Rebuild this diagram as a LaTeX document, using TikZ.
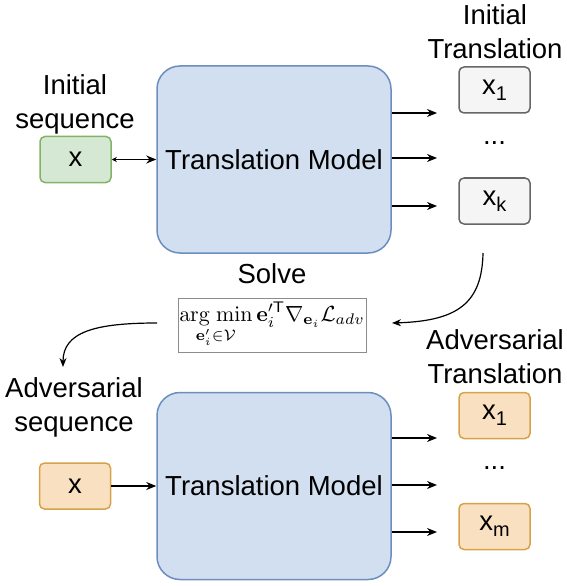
\documentclass[tikz,border=0pt]{standalone}
\usepackage{amsmath}
\usepackage{graphicx}
\usepackage[no-math]{fontspec}
\setmainfont{Liberation Sans}
\usetikzlibrary{arrows.meta}
\definecolor{blueF}{HTML}{D2DFF0}
\definecolor{blueD}{HTML}{6C8EBF}
\definecolor{greenF}{HTML}{D5E8D4}
\definecolor{greenD}{HTML}{82B366}
\definecolor{grayF}{HTML}{F5F5F5}
\definecolor{grayD}{HTML}{666666}
\definecolor{orangeF}{HTML}{F9E0C1}
\definecolor{orangeD}{HTML}{D6A24A}
\definecolor{frameD}{HTML}{8C8C8C}
\newcommand{\sbx}[1]{\raisebox{-6bp}{\fontsize{20}{20}\selectfont #1}}
\begin{document}
\begin{tikzpicture}[x=1bp,y=-1bp,
  lbl/.style={font=\fontsize{27.6}{34}\selectfont, align=center, inner sep=0pt},
  model/.style={draw=blueD, fill=blueF, line width=1.5bp, rounded corners=23bp,
    minimum width=234bp, minimum height=187bp, inner sep=0pt,
    font=\fontsize{27.6}{34}\selectfont},
  tok/.style={line width=1.5bp, rounded corners=5bp, minimum width=71bp,
    minimum height=46bp, inner sep=0pt, font=\fontsize{27.6}{34}\selectfont},
  srcbox/.style={tok, draw=greenD, fill=greenF},
  outbox/.style={tok, draw=grayD, fill=grayF},
  advbox/.style={tok, draw=orangeD, fill=orangeF},
  arr/.style={line width=1.5bp, -{Stealth[length=10bp,width=8bp]}},
  carr/.style={line width=1.2bp, -{Stealth[length=9bp,width=7bp]}}]
\useasboundingbox (0,0) rectangle (567,586);

% top row
\node[model] (tm) at (274,159.5) {Translation Model};
\node[srcbox] (xs) at (75.5,159.5) {x};
\node[lbl] (lis) at (75,104) {Initial\\sequence};
\node[lbl] (lit) at (495,32) {Initial\\Translation};
\node[outbox] (o1) at (494.5,90) {x\sbx{1}};
\node[lbl] (od) at (494.5,143) {...};
\node[outbox] (ok) at (494.5,201) {x\sbx{k}};

\coordinate (t1) at (437,113);
\coordinate (t2) at (437,158);
\coordinate (t3) at (437,206);
\draw[arr] (tm.east |- t1) -- (t1);
\draw[arr] (tm.east |- t2) -- (t2);
\draw[arr] (tm.east |- t3) -- (t3);
\draw[line width=1.2bp, {Stealth[length=5bp,width=5bp]}-{Stealth[length=10bp,width=8bp]}] (xs.east) -- (tm.west |- xs.east);

% solve
\node[lbl] (solve) at (272,274) {Solve};
\node[draw=frameD, line width=0.8bp, fill=white, minimum width=188bp, minimum height=54bp, inner sep=0pt] (fm) at (272,325)
  {\scalebox{2.2}{$\displaystyle\operatorname*{arg\;min}_{\mathbf{e}_i'\in\mathcal{V}}\mathbf{e}_i'^{\mathsf{T}}\nabla_{\mathbf{e}_i}\mathcal{L}_{adv}$}};

\coordinate (c1) at (483,253);
\coordinate (c2) at (392,323);
\draw[carr] (c1) .. controls (482,303) and (458,321) .. (c2);
\coordinate (c3) at (157,323);
\coordinate (c4) at (63,367);
\draw[carr] (c3) .. controls (95,323) and (63,332) .. (c4);

% bottom row
\node[model] (am) at (274,486) {Translation Model};
\node[advbox] (xa) at (75,486) {x};
\node[lbl] (las) at (74,407) {Adversarial\\sequence};
\node[lbl] (lat) at (495,357) {Adversarial\\Translation};
\node[advbox] (a1) at (494.5,415.5) {x\sbx{1}};
\node[lbl] (ad) at (494.5,468) {...};
\node[advbox] (am2) at (494.5,526.5) {x\sbx{m}};

\coordinate (b1) at (437,438);
\coordinate (b2) at (437,485);
\coordinate (b3) at (437,532);
\draw[arr] (am.east |- b1) -- (b1);
\draw[arr] (am.east |- b2) -- (b2);
\draw[arr] (am.east |- b3) -- (b3);
\draw[arr] (xa.east) -- (am.west |- xa.east);
\end{tikzpicture}
\end{document}
